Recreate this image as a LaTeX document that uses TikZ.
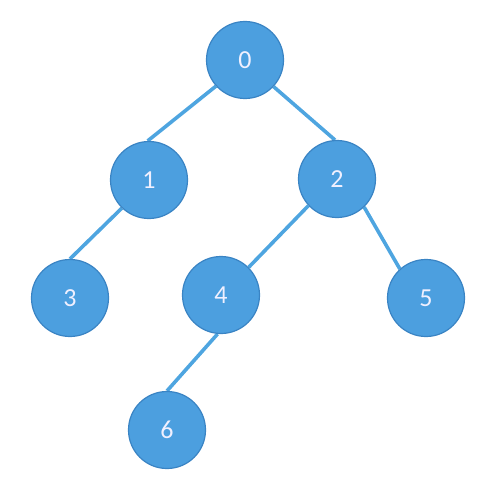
\documentclass[tikz,border=0pt]{standalone}
\usepackage{fontspec}
\setmainfont{Carlito}
\usetikzlibrary{backgrounds}
\definecolor{nodeblue}{RGB}{76,159,223}
\definecolor{rimblue}{RGB}{58,132,196}
\definecolor{edgeblue}{RGB}{78,165,224}
\begin{document}
\begin{tikzpicture}[x=1pt, y=-1pt, font=\fontsize{26}{26}\selectfont, line join=round, line cap=round]
	\useasboundingbox (0,0) rectangle (498,500);
	\tikzset{vert/.style={circle, fill=nodeblue, draw=rimblue, line width=1.2pt, minimum size=77pt, inner sep=0pt, text=white!94!blue},
		link/.style={edgeblue, line width=3.6pt}}
	\node[vert] (n0) at (245,60) {0};
	\node[vert] (n1) at (149,180) {1};
	\node[vert] (n2) at (337,179) {2};
	\node[vert] (n3) at (70,298) {3};
	\node[vert] (n4) at (221,295) {4};
	\node[vert] (n5) at (426,298) {5};
	\node[vert] (n6) at (167,430) {6};
	\begin{scope}[on background layer]
		\draw[link] (n0.222) -- (n1.92);
		\draw[link] (n0.317) -- (n2.93);
		\draw[link] (n1.226) -- (n3.north);
		\draw[link] (n2.223) -- (n4.45);
		\draw[link] (n2.314) -- (n5.132);
		\draw[link] (n4.265) -- (n6.north);
	\end{scope}
\end{tikzpicture}
\end{document}
